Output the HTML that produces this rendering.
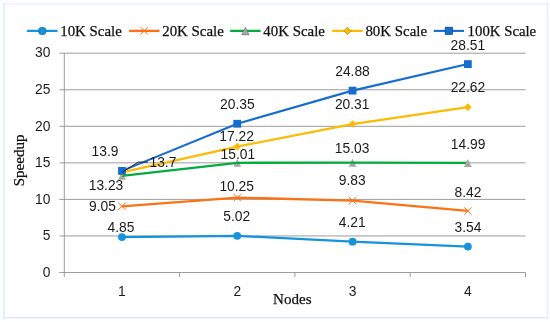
<!DOCTYPE html>
<html lang="en"><head><meta charset="utf-8"><title>Speedup vs Nodes</title>
<style>html,body{margin:0;padding:0;background:#fdfeff;}svg{display:block;}</style></head>
<body>
<svg width="550" height="322" viewBox="0 0 550 322">
<rect x="0" y="0" width="550" height="322" fill="#fdfeff"/>
<rect x="3" y="3" width="545" height="315.6" fill="#ffffff"/>
<path d="M3 3.9H548" stroke="#eef4fb" stroke-width="1.8"/>
<path d="M3.9 3V318.6" stroke="#e5eef8" stroke-width="1.8"/>
<path d="M547.5 3V318.6" stroke="#e2edf8" stroke-width="1.3"/>
<path d="M3 317.8H548.1" stroke="#dceaf5" stroke-width="1.6"/>
<g stroke="#929292" stroke-width="0.9" fill="none">
<path d="M59.30 272.50H525.50"/>
<path d="M59.30 235.95H525.50"/>
<path d="M59.30 199.40H525.50"/>
<path d="M59.30 162.85H525.50"/>
<path d="M59.30 126.30H525.50"/>
<path d="M59.30 89.75H525.50"/>
<path d="M59.30 53.20H525.50"/>
<path d="M64.30 53.20V277.00"/>
<path d="M179.60 272.50V277.00"/>
<path d="M294.90 272.50V277.00"/>
<path d="M410.20 272.50V277.00"/>
<path d="M525.50 272.50V277.00"/>
</g>
<g font-family="'Liberation Sans', sans-serif" font-size="13.8" fill="#1a1a1a" text-anchor="end">
<text x="50.4" y="276.70">0</text>
<text x="50.4" y="240.15">5</text>
<text x="50.4" y="203.60">10</text>
<text x="50.4" y="167.05">15</text>
<text x="50.4" y="130.50">20</text>
<text x="50.4" y="93.95">25</text>
<text x="50.4" y="57.40">30</text>
</g>
<g font-family="'Liberation Sans', sans-serif" font-size="13.8" fill="#1a1a1a" text-anchor="middle">
<text x="121.95" y="296.4">1</text>
<text x="237.25" y="296.4">2</text>
<text x="352.55" y="296.4">3</text>
<text x="467.85" y="296.4">4</text>
</g>
<g font-family="'Liberation Serif', serif" font-size="15.4" fill="#111" stroke="#111" stroke-width="0.25">
<text x="273.1" y="304.3" textLength="38.4" lengthAdjust="spacingAndGlyphs">Nodes</text>
<text font-size="14.7" transform="translate(23.8 186.3) rotate(-90)" textLength="51.8" lengthAdjust="spacingAndGlyphs">Speedup</text>
</g>
<path d="M121.95 237.05 L237.25 235.80 L352.55 241.72 L467.85 246.62" stroke="#1593db" stroke-width="2.25" fill="none" stroke-linejoin="round" stroke-linecap="butt"/>
<circle cx="121.95" cy="237.05" r="3.9" fill="#1593db"/><circle cx="237.25" cy="235.80" r="3.9" fill="#1593db"/><circle cx="352.55" cy="241.72" r="3.9" fill="#1593db"/><circle cx="467.85" cy="246.62" r="3.9" fill="#1593db"/>
<path d="M121.95 206.34 L237.25 197.57 L352.55 200.64 L467.85 210.95" stroke="#fc7215" stroke-width="2.35" fill="none" stroke-linejoin="round" stroke-linecap="butt"/>
<path d="M118.25 202.64L125.65 210.04M118.25 210.04L125.65 202.64" stroke="#fc7215" stroke-width="1" fill="none"/><path d="M233.55 193.87L240.95 201.27M233.55 201.27L240.95 193.87" stroke="#fc7215" stroke-width="1" fill="none"/><path d="M348.85 196.94L356.25 204.34M348.85 204.34L356.25 196.94" stroke="#fc7215" stroke-width="1" fill="none"/><path d="M464.15 207.25L471.55 214.65M464.15 214.65L471.55 207.25" stroke="#fc7215" stroke-width="1" fill="none"/>
<path d="M121.95 171.99L125.85 179.79L118.05 179.79Z" fill="#a6a6a6"/><path d="M237.25 158.98L241.15 166.78L233.35 166.78Z" fill="#a6a6a6"/><path d="M352.55 158.83L356.45 166.63L348.65 166.63Z" fill="#a6a6a6"/>
<path d="M121.95 175.79 L237.25 162.78 L352.55 162.63 L467.85 162.92" stroke="#06ab40" stroke-width="2.3" fill="none" stroke-linejoin="round" stroke-linecap="butt"/>
<path d="M467.85 159.12L471.75 166.92L463.95 166.92Z" fill="#a6a6a6"/>
<path d="M121.95 172.35 L237.25 146.62 L352.55 124.03 L467.85 107.15" stroke="#fdbb06" stroke-width="2.25" fill="none" stroke-linejoin="round" stroke-linecap="butt"/>
<path d="M121.95 168.55L125.75 172.35L121.95 176.15L118.15 172.35Z" fill="#fdbb06"/><path d="M237.25 142.82L241.05 146.62L237.25 150.42L233.45 146.62Z" fill="#fdbb06"/><path d="M352.55 120.23L356.35 124.03L352.55 127.83L348.75 124.03Z" fill="#fdbb06"/><path d="M467.85 103.35L471.65 107.15L467.85 110.95L464.05 107.15Z" fill="#fdbb06"/>
<path d="M121.95 170.89 L237.25 123.74 L352.55 90.63 L467.85 64.09" stroke="#166dcf" stroke-width="2.1" fill="none" stroke-linejoin="round" stroke-linecap="butt"/>
<rect x="118.05" y="166.99" width="7.80" height="7.80" fill="#166dcf"/><rect x="233.35" y="119.84" width="7.80" height="7.80" fill="#166dcf"/><rect x="348.65" y="86.73" width="7.80" height="7.80" fill="#166dcf"/><rect x="463.95" y="60.19" width="7.80" height="7.80" fill="#166dcf"/>
<path d="M122.3 172.2L138.2 162.1H147.8" stroke="#222" stroke-width="1" fill="none"/>
<g font-family="'Liberation Sans', sans-serif" font-size="13.8" fill="#1a1a1a" text-anchor="middle">
<text x="120.9" y="231.5">4.85</text>
<text x="236.8" y="221.3">5.02</text>
<text x="352.2" y="226.8">4.21</text>
<text x="468.0" y="231.9">3.54</text>
<text x="102.5" y="211.1">9.05</text>
<text x="236.7" y="190.9">10.25</text>
<text x="352.2" y="185.4">9.83</text>
<text x="468.0" y="196.5">8.42</text>
<text x="106.0" y="189.8">13.23</text>
<text x="237.8" y="159.4">15.01</text>
<text x="352.1" y="152.6">15.03</text>
<text x="468.1" y="148.5">14.99</text>
<text x="162.9" y="167.4">13.7</text>
<text x="236.6" y="141.4">17.22</text>
<text x="352.2" y="109.0">20.31</text>
<text x="467.9" y="91.9">22.62</text>
<text x="105.0" y="156.0">13.9</text>
<text x="237.3" y="108.8">20.35</text>
<text x="352.5" y="75.7">24.88</text>
<text x="467.8" y="49.5">28.51</text>
</g>
<g font-family="'Liberation Serif', serif" font-size="15.4" fill="#111" stroke="#111" stroke-width="0.25">
<path d="M27.1 30.9H57.5" stroke="#1593db" stroke-width="2.25" fill="none"/>
<circle cx="42.30" cy="30.90" r="3.9" fill="#1593db"/>
<text x="60.20" y="35.6" textLength="61.6" lengthAdjust="spacingAndGlyphs">10K Scale</text>
<path d="M129.1 30.9H159.5" stroke="#fc7215" stroke-width="2.35" fill="none"/>
<path d="M140.60 27.20L148.00 34.60M140.60 34.60L148.00 27.20" stroke="#fc7215" stroke-width="1" fill="none"/>
<text x="162.20" y="35.6" textLength="61.6" lengthAdjust="spacingAndGlyphs">20K Scale</text>
<path d="M230.2 30.9H260.59999999999997" stroke="#06ab40" stroke-width="2.3" fill="none"/>
<path d="M245.40 27.10L249.30 34.90L241.50 34.90Z" fill="#a6a6a6"/>
<text x="263.30" y="35.6" textLength="61.6" lengthAdjust="spacingAndGlyphs">40K Scale</text>
<path d="M332.3 30.9H362.7" stroke="#fdbb06" stroke-width="2.25" fill="none"/>
<path d="M347.50 27.10L351.30 30.90L347.50 34.70L343.70 30.90Z" fill="#fdbb06"/>
<text x="365.40" y="35.6" textLength="61.6" lengthAdjust="spacingAndGlyphs">80K Scale</text>
<path d="M433.7 30.9H464.09999999999997" stroke="#166dcf" stroke-width="2.1" fill="none"/>
<rect x="445.00" y="27.00" width="7.80" height="7.80" fill="#166dcf"/>
<text x="467.60" y="35.6" textLength="68.6" lengthAdjust="spacingAndGlyphs">100K Scale</text>
</g>
</svg>
</body></html>
